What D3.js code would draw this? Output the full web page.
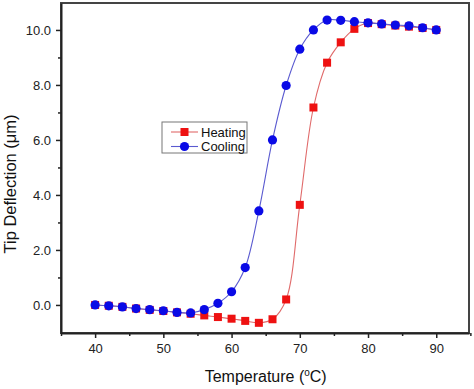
<!DOCTYPE html>
<html>
<head>
<meta charset="utf-8">
<script src="https://cdn.jsdelivr.net/npm/d3@7"></script>
<style>
  body { margin: 0; background: #fff; }
  svg { display: block; font-family: Arial, "Liberation Sans", sans-serif; }
</style>
</head>
<body>
<div id="chart"></div>
<script>
  const temps = [40, 42, 44, 46, 48, 50, 52, 54, 56, 58, 60, 62, 64, 66, 68, 70, 72, 74, 76, 78, 80, 82, 84, 86, 88, 90]
  const heating = [0, -0.03, -0.07, -0.13, -0.18, -0.22, -0.27, -0.32, -0.38, -0.44, -0.5, -0.58, -0.65, -0.52, 0.2, 3.64, 7.18, 8.81, 9.55, 10.04, 10.25, 10.21, 10.16, 10.12, 10.07, 10.0]
  const cooling = [0, -0.03, -0.07, -0.13, -0.17, -0.21, -0.27, -0.29, -0.17, 0.06, 0.48, 1.36, 3.42, 6.0, 7.98, 9.3, 10.0, 10.36, 10.35, 10.3, 10.26, 10.22, 10.18, 10.15, 10.08, 10.0]
  const xTicks = [40, 50, 60, 70, 80, 90]
  const xMinorTicks = [35, 45, 55, 65, 75, 85, 95]
  const yTicks = [0, 2, 4, 6, 8, 10]
  const yMinorTicks = [1, 3, 5, 7, 9]

  const width = 474
  const height = 389
  const margin = {top: 3, right: 5, bottom: 56, left: 61}
  const innerWidth = width - margin.left - margin.right
  const innerHeight = height - margin.top - margin.bottom

  const svg = d3.select('#chart')
    .append('svg')
      .attr('width', width)
      .attr('height', height)
  const g = svg.append('g')
    .attr('transform', `translate(${margin.left},${margin.top})`)

  const x = d3.scaleLinear().domain([35, 94.8]).range([0, innerWidth])
  const y = d3.scaleLinear().domain([-1.02, 10.98]).range([innerHeight, 0])

  // frame
  g.append('rect')
    .attr('width', innerWidth)
    .attr('height', innerHeight)
    .attr('fill', 'none')
    .attr('stroke', '#444')
    .attr('stroke-width', 2)

  const styleAxis = sel => {
    sel.select('.domain').attr('stroke', '#222').attr('stroke-width', 2)
    sel.selectAll('.tick line').attr('stroke', '#222').attr('stroke-width', 1.5)
    sel.selectAll('.tick text').attr('fill', '#222').style('font-size', '13px')
  }

  const minorAxis = (sel, axis) => {
    sel.call(axis).call(styleAxis)
    sel.select('.domain').remove()
    sel.selectAll('.tick text').remove()
  }

  g.append('g')
    .attr('transform', `translate(0,${innerHeight})`)
    .call(d3.axisBottom(x).tickValues(xTicks).tickSize(5).tickPadding(6).tickSizeOuter(0))
    .call(styleAxis)
  g.append('g')
    .attr('transform', `translate(0,${innerHeight})`)
    .call(minorAxis, d3.axisBottom(x).tickValues(xMinorTicks).tickSize(3))

  g.append('g')
    .call(d3.axisLeft(y).tickValues(yTicks).tickSize(5).tickPadding(5).tickFormat(d3.format('.1f')).tickSizeOuter(0))
    .call(styleAxis)
  g.append('g')
    .call(minorAxis, d3.axisLeft(y).tickValues(yMinorTicks).tickSize(3))

  // axis titles
  const xTitle = svg.append('text')
    .attr('x', margin.left + x(65))
    .attr('y', 382)
    .attr('text-anchor', 'middle')
    .attr('fill', '#111')
    .style('font-size', '16px')
  xTitle.append('tspan').text('Temperature (')
  xTitle.append('tspan').attr('dy', -6).style('font-size', '10px').text('o')
  xTitle.append('tspan').attr('dy', 6).text('C)')

  svg.append('text')
    .attr('transform', `translate(16,${margin.top + y(4.4)}) rotate(-90)`)
    .attr('text-anchor', 'middle')
    .attr('fill', '#111')
    .style('font-size', '16.5px')
    .text('Tip Deflection (\u03bcm)')

  const series = [
    {name: 'Heating', values: heating, line: '#e06a6a', fill: '#ee1111', shape: 'square'},
    {name: 'Cooling', values: cooling, line: '#5a5ad0', fill: '#0a0ae6', shape: 'circle'}
  ]

  const line = d3.line()
    .x((d, i) => x(temps[i]))
    .y(d => y(d))
    .curve(d3.curveCatmullRom.alpha(0.5))

  const drawMarker = (sel, s, cx, cy) => {
    if (s.shape === 'square') {
      sel.append('rect')
        .attr('x', cx - 4)
        .attr('y', cy - 4)
        .attr('width', 8)
        .attr('height', 8)
        .attr('fill', s.fill)
    } else {
      sel.append('circle')
        .attr('cx', cx)
        .attr('cy', cy)
        .attr('r', 4.6)
        .attr('fill', s.fill)
    }
  }

  series.forEach(s => {
    g.append('path')
      .datum(s.values)
      .attr('d', line)
      .attr('fill', 'none')
      .attr('stroke', s.line)
      .attr('stroke-width', 1.1)
  })
  series.forEach(s => {
    const marks = g.append('g')
    s.values.forEach((v, i) => drawMarker(marks, s, x(temps[i]), y(v)))
  })

  // legend
  const legend = svg.append('g').attr('transform', 'translate(162,122)')
  legend.append('rect')
    .attr('width', 85)
    .attr('height', 31)
    .attr('fill', '#fff')
    .attr('stroke', '#777')
    .attr('stroke-width', 1)
  series.forEach((s, i) => {
    const ly = 10 + i * 14.5
    legend.append('line')
      .attr('x1', 9).attr('x2', 36)
      .attr('y1', ly).attr('y2', ly)
      .attr('stroke', s.line)
      .attr('stroke-width', 1.1)
    drawMarker(legend, s, 22.5, ly)
    legend.append('text')
      .attr('x', 39)
      .attr('y', ly + 4.5)
      .attr('fill', '#111')
      .style('font-size', '13px')
      .text(s.name)
  })
</script>
</body>
</html>
